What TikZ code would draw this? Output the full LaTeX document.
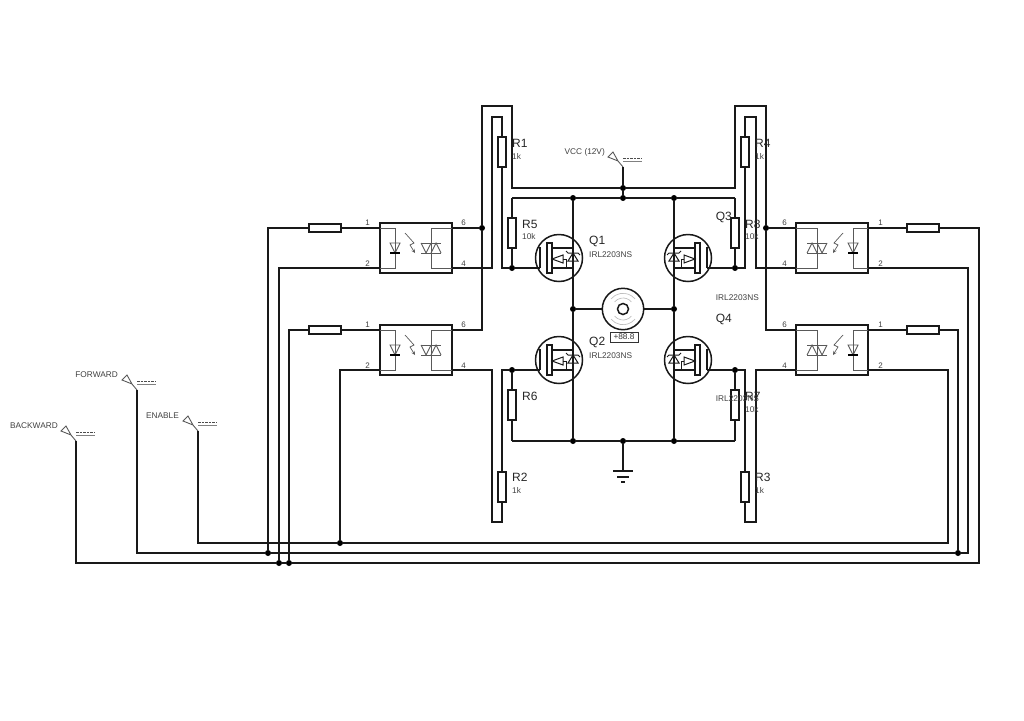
\documentclass[tikz,border=0pt]{standalone}
\usepackage{fontspec}
\setmainfont{Liberation Sans}
\tikzset{
	wire/.style={black!90, line width=1.5pt, line join=miter},
	symb/.style={black!65, line width=0.9pt},
	res/.style={draw=black!90, line width=1.5pt, fill=white, rectangle, inner sep=0pt},
	vres/.style={res, minimum width=8pt, minimum height=30pt},
	hres/.style={res, minimum width=32pt, minimum height=8pt},
	jct/.style={circle, fill=black, inner sep=0pt, minimum size=6pt},
	lblbig/.style={anchor=west, inner sep=0pt, font=\fontsize{12}{12}\selectfont, text=black!85},
	lblsmall/.style={anchor=west, inner sep=0pt, font=\fontsize{8.3}{8.3}\selectfont, text=black!75},
	lblpin/.style={inner sep=0pt, font=\fontsize{8}{8}\selectfont, text=black!75},
	mosfet/.pic={
		\coordinate (-g) at (-19,10);
		\draw[wire] (0,0) circle (23.5);
		\draw[wire] (-19,-11) -- (-19,10);
		\draw[wire] (-12,-15) rectangle (-7,15);
		\draw[wire] (-7,-10) -- (14,-10);
		\draw[wire] (-7,10) -- (14,10);
		\draw[wire, line width=1pt] (-7,1) -- (4,-3) -- (4,5) -- cycle;
		\draw[wire, line width=1pt] (4,1) -- (7,1) -- (7,10);
		\draw[wire, line width=1pt] (9,3) -- (19,3) -- (14,-5) -- cycle;
		\draw[wire, line width=1pt] (7,-7) -- (9,-5) -- (19,-5) -- (21,-3);
	},
	opto/.pic={
		\coordinate (-p1) at (-36,-20);
		\coordinate (-p2) at (-36,20);
		\coordinate (-p6) at (36,-20);
		\coordinate (-p4) at (36,20);
		\draw[wire] (-36,-25) rectangle (36,25);
		\draw[symb] (-36,-20) -- (-21,-20) -- (-21,20) -- (-36,20);
		\draw[symb] (-26,-5) -- (-16,-5) -- (-21,5) -- cycle;
		\draw[black, line width=1.5pt] (-26,5) -- (-16,5);
		\draw[black!65, line width=0.7pt, -stealth] (-11,-15) -- (-2,-5) -- (-6,-3) -- (-1,5);
		\draw[symb] (36,-20) -- (15,-20) -- (15,20) -- (36,20);
		\draw[symb] (5,-5) -- (25,-5);
		\draw[symb] (5,5) -- (25,5);
		\draw[symb] (5,-5) -- (10,5) -- (15,-5);
		\draw[symb] (15,5) -- (20,-5) -- (25,5);
		\node[lblpin] at (-48.5,-25) {1};
		\node[lblpin] at (-48.5,16) {2};
		\node[lblpin] at (47.5,-25) {6};
		\node[lblpin] at (47.5,16) {4};
	},
	term/.pic={
		\coordinate (-w) at (0,0);
		\draw[symb] (0,0) -- (-5,-6) -- (-15,-10) -- (-10,-15) -- (-5,-6);
		\draw[black!70, line width=0.8pt, dash pattern=on 2.6pt off 1pt] (0,-9) -- (19,-9);
		\draw[black!50, line width=0.9pt] (0,-6) -- (19,-6);
	},
	gnd/.pic={
		\draw[wire] (-10,0) -- (10,0);
		\draw[wire] (-6,6) -- (6,6);
		\draw[wire] (-2,11) -- (2,11);
	},
}
\begin{document}
\begin{tikzpicture}[x=1pt, y=-1pt]
	\useasboundingbox (0,0) rectangle (1024,720);

	\pic (O1) at (416,248) {opto};
	\pic (O2) at (416,350) {opto};
	\pic[xscale=-1] (O3) at (832,248) {opto};
	\pic[xscale=-1] (O4) at (832,350) {opto};

	\pic (Q1) at (559,258) {mosfet};
	\pic (Q2) at (559,360) {mosfet};
	\pic[xscale=-1] (Q3) at (688,258) {mosfet};
	\pic[xscale=-1] (Q4) at (688,360) {mosfet};

	\pic (TV) at (623,167) {term};
	\pic (TF) at (137,390) {term};
	\pic (TB) at (76,441) {term};
	\pic (TE) at (198,431) {term};

	\node[vres] (R1) at (502,152) {};
	\node[vres] (R2) at (502,487) {};
	\node[vres] (R3) at (745,487) {};
	\node[vres] (R4) at (745,152) {};
	\node[vres] (R5) at (512,233) {};
	\node[vres] (R6) at (512,405) {};
	\node[vres] (R7) at (735,405) {};
	\node[vres] (R8) at (735,233) {};
	\node[hres] (RA) at (325,228) {};
	\node[hres] (RB) at (325,330) {};
	\node[hres] (RC) at (923,228) {};
	\node[hres] (RD) at (923,330) {};

	\node[jct] (J1) at (482,228) {};
	\node[jct] (J2) at (766,228) {};
	\node[jct] (JV) at (623,188) {};
	\node[jct] (JA) at (573,198) {};
	\node[jct] (JB) at (623,198) {};
	\node[jct] (JC) at (674,198) {};
	\node[jct] (JD) at (573,309) {};
	\node[jct] (JE) at (674,309) {};
	\node[jct] (JF) at (573,441) {};
	\node[jct] (JG) at (623,441) {};
	\node[jct] (JH) at (674,441) {};
	\node[jct] (JK) at (512,268) {};
	\node[jct] (JL) at (735,268) {};
	\node[jct] (JM) at (512,370) {};
	\node[jct] (JN) at (735,370) {};
	\node[jct] (JP) at (268,553) {};
	\node[jct] (JQ) at (279,563) {};
	\node[jct] (JR) at (289,563) {};
	\node[jct] (JS) at (340,543) {};
	\node[jct] (JT) at (958,553) {};

	\node[circle, draw=black!90, line width=1.5pt, minimum size=41.4pt, inner sep=0pt] (M) at (623,309) {};
	\node[circle, draw=black!90, line width=1.5pt, minimum size=11pt, inner sep=0pt] (Mi) at (623,309) {};
	\draw[black!25, line width=0.7pt] (623,309) ++(-40:11) arc (-40:-140:11);
	\draw[black!25, line width=0.7pt] (623,309) ++(-40:15.7) arc (-40:-140:15.7);
	\draw[black!25, line width=0.7pt] (623,309) ++(40:11) arc (40:140:11);
	\draw[black!25, line width=0.7pt] (623,309) ++(40:15.7) arc (40:140:15.7);
	\node[draw=black!80, line width=0.9pt, minimum width=28pt, minimum height=10pt, inner sep=0pt, font=\fontsize{8.3}{8.3}\selectfont, text=black!80] (Mv) at (624,337) {+88.8};

	\coordinate (A1) at (482,106);
	\coordinate (A2) at (512,106);
	\coordinate (A3) at (512,188);
	\coordinate (A4) at (735,188);
	\coordinate (A5) at (735,106);
	\coordinate (A6) at (766,106);
	\draw[wire] (O1-p6) -- (J1);
	\draw[wire] (O2-p6) -| (J1);
	\draw[wire] (O3-p6) -- (J2);
	\draw[wire] (O4-p6) -| (J2);
	\draw[wire] (J1) -- (A1) -- (A2) -- (A3) -- (JV);
	\draw[wire] (JV) -- (A4) -- (A5) -- (A6) -- (J2);
	\draw[wire] (TV-w) -- (JV);
	\draw[wire] (JV) -- (JB);

	\coordinate (B1) at (512,198);
	\coordinate (B2) at (735,198);
	\coordinate (B3) at (512,441);
	\coordinate (B4) at (735,441);
	\draw[wire] (B1) -- (JA) -- (JB) -- (JC) -- (B2);
	\draw[wire] (B3) -- (JF) -- (JG) -- (JH) -- (B4);
	\draw[wire] (JA) -- (JD) -- (JF);
	\draw[wire] (JC) -- (JE) -- (JH);
	\draw[wire] (JD) -- (M);
	\draw[wire] (JE) -- (M);
	\draw[wire] (B1) -- (R5) -- (JK);
	\draw[wire] (B2) -- (R8) -- (JL);
	\draw[wire] (JM) -- (R6) -- (B3);
	\draw[wire] (JN) -- (R7) -- (B4);

	\coordinate (C1) at (492,268);
	\coordinate (C2) at (492,117);
	\coordinate (C3) at (502,117);
	\coordinate (C4) at (502,268);
	\draw[wire] (O1-p4) -- (C1) -- (C2) -- (C3) -- (R1) -- (C4) -- (JK) -- (Q1-g);

	\coordinate (D1) at (756,268);
	\coordinate (D2) at (756,117);
	\coordinate (D3) at (745,117);
	\coordinate (D4) at (745,268);
	\draw[wire] (O3-p4) -- (D1) -- (D2) -- (D3) -- (R4) -- (D4) -- (JL) -- (Q3-g);

	\coordinate (E1) at (492,370);
	\coordinate (E2) at (492,522);
	\coordinate (E3) at (502,522);
	\coordinate (E4) at (502,370);
	\draw[wire] (O2-p4) -- (E1) -- (E2) -- (E3) -- (R2) -- (E4) -- (JM) -- (Q2-g);

	\coordinate (F1) at (756,370);
	\coordinate (F2) at (756,522);
	\coordinate (F3) at (745,522);
	\coordinate (F4) at (745,370);
	\draw[wire] (O4-p4) -- (F1) -- (F2) -- (F3) -- (R3) -- (F4) -- (JN) -- (Q4-g);

	\pic at (623,471) {gnd};
	\coordinate (G1) at (623,471);
	\draw[wire] (JG) -- (G1);

	\coordinate (L1) at (268,228);
	\coordinate (L2) at (279,268);
	\coordinate (L3) at (289,330);
	\coordinate (L4) at (340,370);
	\draw[wire] (O1-p1) -- (RA) -- (L1) -- (JP);
	\draw[wire] (O1-p2) -- (L2) -- (JQ);
	\draw[wire] (O2-p1) -- (RB) -- (L3) -- (JR);
	\draw[wire] (O2-p2) -- (L4) -- (JS);

	\coordinate (P1) at (979,228);
	\coordinate (P2) at (968,268);
	\coordinate (P3) at (958,330);
	\coordinate (P4) at (948,370);
	\coordinate (P5) at (979,563);
	\coordinate (P6) at (968,553);
	\coordinate (P7) at (948,543);
	\coordinate (W1) at (76,563);
	\coordinate (W2) at (137,553);
	\coordinate (W3) at (198,543);
	\draw[wire] (O3-p1) -- (RC) -- (P1) -- (P5) -- (JR) -- (JQ) -- (W1) -- (TB-w);
	\draw[wire] (O3-p2) -- (P2) -- (P6) -- (JT) -- (JP) -- (W2) -- (TF-w);
	\draw[wire] (O4-p1) -- (RD) -- (P3) -- (JT);
	\draw[wire] (O4-p2) -- (P4) -- (P7) -- (JS) -- (W3) -- (TE-w);

	\node[lblbig] (tR1) at (512,143.3) {R1};
	\node[lblsmall] (tR1v) at (512,156) {1k};
	\node[lblbig] (tR2) at (512,477.7) {R2};
	\node[lblsmall] (tR2v) at (512,490.7) {1k};
	\node[lblbig] (tR3) at (755,477.7) {R3};
	\node[lblsmall] (tR3v) at (755,490.7) {1k};
	\node[lblbig] (tR4) at (755,143.3) {R4};
	\node[lblsmall] (tR4v) at (755,156) {1k};
	\node[lblbig] (tR5) at (522,224) {R5};
	\node[lblsmall] (tR5v) at (522,237) {10k};
	\node[lblbig] (tR6) at (522,396.7) {R6};
	\node[lblbig] (tR7) at (745,396.7) {R7};
	\node[lblsmall] (tR7v) at (745,410) {10k};
	\node[lblbig] (tR8) at (745,224) {R8};
	\node[lblsmall] (tR8v) at (745,237) {10k};
	\node[lblbig] (tQ1) at (589,241.7) {Q1};
	\node[lblsmall] (tQ1v) at (589,254.7) {IRL2203NS};
	\node[lblbig] (tQ2) at (589,342.7) {Q2};
	\node[lblsmall] (tQ2v) at (589,355.7) {IRL2203NS};
	\node[lblbig] (tQ3) at (715.7,217.3) {Q3};
	\node[lblsmall] (tQ3v) at (715.7,297.3) {IRL2203NS};
	\node[lblbig] (tQ4) at (715.7,319) {Q4};
	\node[lblsmall] (tQ4v) at (715.7,399) {IRL2203NS};
	\node[lblsmall, anchor=east] (tV) at (605,152) {VCC (12V)};
	\node[lblsmall, anchor=east] (tF) at (118,375) {FORWARD};
	\node[lblsmall, anchor=east] (tB) at (58,425.7) {BACKWARD};
	\node[lblsmall, anchor=east] (tE) at (179,415.7) {ENABLE};
\end{tikzpicture}
\end{document}
